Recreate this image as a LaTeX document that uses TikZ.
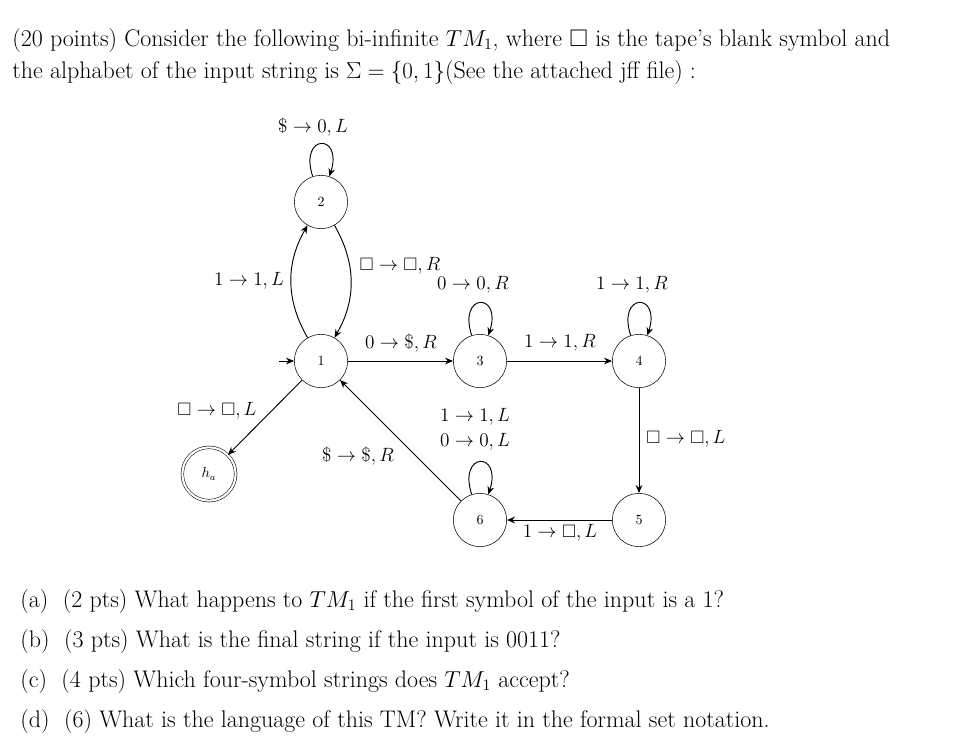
\documentclass[tikz,border=0pt]{standalone}
\usepackage{amsmath,amssymb}
\usetikzlibrary{arrows.meta}
\begin{document}
\begin{tikzpicture}[x=0.75pt,y=-0.75pt,
  st/.style={draw,circle,minimum size=40pt,inner sep=0pt,font=\fontsize{10.5}{12}\selectfont},
  acc/.style={st,double,double distance=1.6pt},
  lab/.style={font=\fontsize{13.5}{15}\selectfont},
  txt/.style={anchor=base west,font=\fontsize{18}{22}\selectfont,inner sep=0pt},
  arr/.style={-{Stealth[length=6pt,width=5pt]},line width=0.7pt},
  lp/.style={arr,looseness=7,in=72,out=108,min distance=14pt}]
\useasboundingbox (0,0) rectangle (961,747);
\node[txt] (t1) at (12,46) {(20 points) Consider the following bi-infinite $TM_1$, where $\square$ is the tape's blank symbol and};
\node[txt] (t2) at (12,78) {the alphabet of the input string is $\Sigma=\{0,1\}$(See the attached jff file) :};
\node[txt] (qa) at (20,607) {(a)\ \ (2 pts) What happens to $TM_1$ if the first symbol of the input is a 1?};
\node[txt] (qb) at (20,647) {(b)\ \ (3 pts) What is the final string if the input is 0011?};
\node[txt] (qc) at (20,687) {(c)\ \ (4 pts) Which four-symbol strings does $TM_1$ accept?};
\node[txt] (qd) at (20,727) {(d)\ \ (6) What is the language of this TM? Write it in the formal set notation.};

\node[st] (n1) at (321,361) {1};
\node[st] (n2) at (321,202) {2};
\node[st] (n3) at (480,361) {3};
\node[st] (n4) at (639,361) {4};
\node[st] (n5) at (639,520) {5};
\node[st] (n6) at (480,520) {6};
\node[acc] (ha) at (209,474) {$h_a$};
\coordinate (init) at (279,361);

\draw[arr] (init) -- (n1);
\draw[arr] (n1) to[bend left=30] (n2);
\draw[arr] (n2) to[bend left=30] (n1);
\draw[arr] (n1) -- (n3);
\draw[arr] (n3) -- (n4);
\draw[arr] (n4) -- (n5);
\draw[arr] (n5) -- (n6);
\draw[arr] (n6) -- (n1);
\draw[arr] (n1) -- (ha);
\draw[lp] (n2) to (n2);
\draw[lp] (n3) to (n3);
\draw[lp] (n4) to (n4);
\draw[lp] (n6) to (n6);

\node[lab] (l2) at (313,127) {$\$\rightarrow0,L$};
\node[lab] (l3) at (473,285) {$0\rightarrow0,R$};
\node[lab] (l4) at (632,285) {$1\rightarrow1,R$};
\node[lab] (l6a) at (475,417) {$1\rightarrow1,L$};
\node[lab] (l6b) at (475,442) {$0\rightarrow0,L$};
\node[lab] (l12) at (249,281) {$1\rightarrow1,L$};
\node[lab] (l21) at (400,266) {$\square\rightarrow\square,R$};
\node[lab] (l13) at (401,343) {$0\rightarrow\$,R$};
\node[lab] (l34) at (560,343) {$1\rightarrow1,R$};
\node[lab] (l45) at (686,439) {$\square\rightarrow\square,L$};
\node[lab] (l56) at (560,533) {$1\rightarrow\square,L$};
\node[lab] (l61) at (358,456) {$\$\rightarrow\$,R$};
\node[lab] (l1h) at (217,411) {$\square\rightarrow\square,L$};
\end{tikzpicture}
\end{document}
